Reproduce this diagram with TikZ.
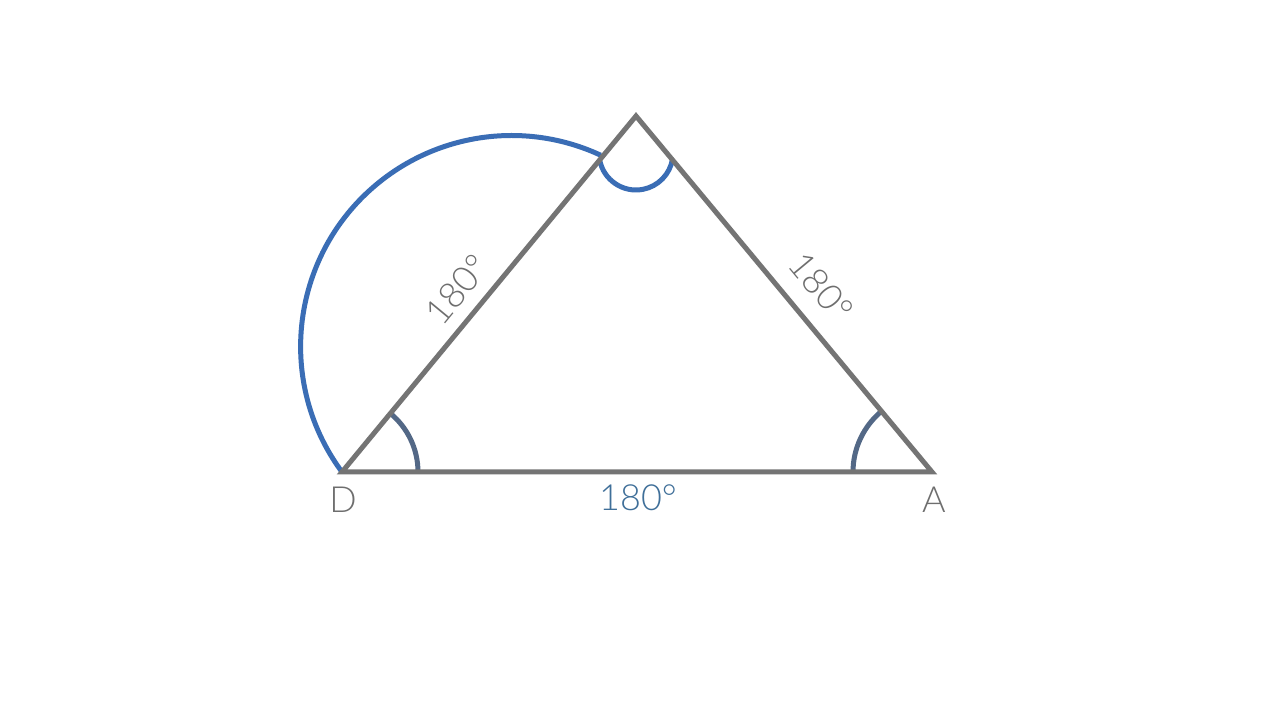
\documentclass[tikz,border=0pt]{standalone}
\usepackage{fontspec}
\setmainfont{Lato Light}
\definecolor{edgegray}{HTML}{747474}
\definecolor{arcblue}{HTML}{3A6DB5}
\definecolor{anglegray}{HTML}{536886}
\definecolor{labelgray}{HTML}{6E6E6E}
\definecolor{labelblue}{HTML}{3F6F99}
\tikzset{
  side/.style={draw=edgegray, line width=5pt, line join=miter},
  bluearc/.style={draw=arcblue, line width=5pt},
  anglearc/.style={draw=anglegray, line width=5pt},
  lbl/.style={font=\fontsize{36}{40}\selectfont, text=labelgray, inner sep=0pt},
}
\begin{document}
\begin{tikzpicture}[x=1pt,y=1pt]
\useasboundingbox (0,0) rectangle (1280,720);
\fill[white] (0,0) rectangle (1280,720);
\coordinate (D) at (342,248);
\coordinate (A) at (932,248);
\coordinate (T) at (636,604);
% big blue arc
\draw[bluearc] (D) arc[start angle=216.5, end angle=65, radius=211];
% apex arc
\draw[bluearc] ([shift={(190.9:37)}]636,567) arc[start angle=190.9, end angle=350.8, radius=37];
% angle arcs
\draw[anglearc] ([shift={(0:76)}]D) arc[start angle=0, end angle=50.45, radius=76];
\draw[anglearc] ([shift={(129.7:79)}]A) arc[start angle=129.7, end angle=180, radius=79];
% triangle
\draw[side] (D) -- (T) -- (A) -- cycle;
% labels
\node[lbl] (lD) at (343,220) {D};
\node[lbl] (lA) at (934,220) {A};
\node[lbl, text=labelblue] (lb) at (638,222) {180°};
\node[lbl, rotate=50.45] (ll) at (457,430) {180°};
\node[lbl, rotate=-50.26] (lr) at (821,433) {180°};
\end{tikzpicture}
\end{document}
